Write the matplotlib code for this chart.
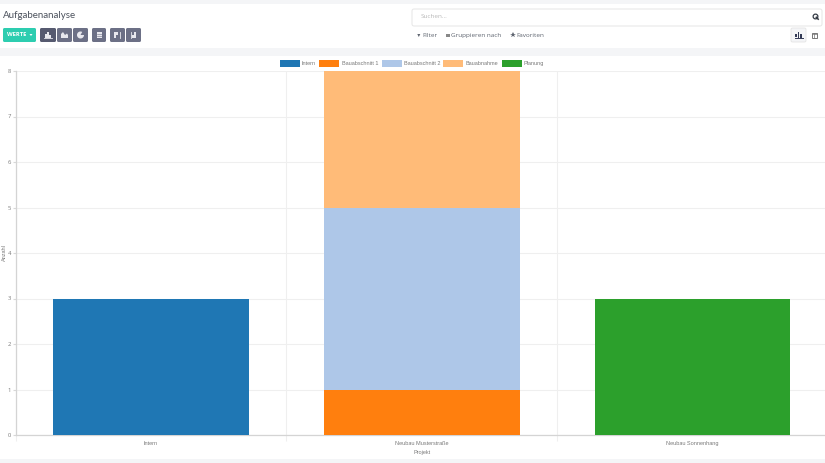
import numpy as np
import matplotlib.pyplot as plt
from matplotlib.patches import FancyBboxPatch, Rectangle, Wedge

projects = ["Intern", "Neubau Musterstraße", "Neubau Sonnenhang"]
series_names = ["Intern", "Bauabschnitt 1", "Bauabschnitt 2", "Bauabnahme", "Planung"]
series_values = [
    [3, 0, 0],
    [0, 1, 0],
    [0, 4, 0],
    [0, 3, 0],
    [0, 0, 3],
]
series_colors = ["#1f77b4", "#ff7f0e", "#aec7e8", "#ffbb78", "#2ca02c"]
y_ticks = [0, 1, 2, 3, 4, 5, 6, 7, 8]

W, H = 825, 463
plt.rcParams['font.family'] = ['Open Sans', 'DejaVu Sans']

fig = plt.figure(figsize=(W / 100, H / 100), dpi=100, facecolor="white")

# --- chart ---
ax = fig.add_axes([15.5 / W, (H - 435) / H, 812.5 / W, 364 / H])
x = np.arange(len(projects))
bottom = np.zeros(len(projects))
for name, vals, col in zip(series_names, series_values, series_colors):
    vals = np.array(vals)
    ax.bar(x, vals, 0.722, bottom=bottom, color=col, label=name, zorder=3)
    bottom += vals

label_color = "#7a7a7a"
ax.set_xlim(-0.5, 2.5)
ax.set_ylim(0, 8)
ax.set_yticks(y_ticks)
ax.set_xticks(x)
ax.set_xticklabels(projects, fontsize=4.0, color=label_color, family="Liberation Sans")
ax.set_xticks([-0.5, 0.5, 1.5], minor=True)
ax.grid(True, axis="y", color="#efefef", lw=0.8, zorder=0)
ax.grid(True, axis="x", which="minor", color="#efefef", lw=0.8, zorder=0)
ax.tick_params(axis="y", labelsize=4.2, labelcolor=label_color, color="#d8d8d8", length=2.2, width=0.8, pad=1)
ax.tick_params(axis="x", which="major", length=0, pad=4)
ax.tick_params(axis="x", which="minor", color="#efefef", length=4, width=0.8)
for s in ["top", "right"]:
    ax.spines[s].set_visible(False)
for s in ["left", "bottom"]:
    ax.spines[s].set_color("#d4d4d4")
    ax.spines[s].set_linewidth(0.9)
ax.set_xlabel("Projekt", fontsize=4.0, color=label_color, labelpad=3, family="Liberation Sans")
ax.text(2 / W, 1 - 253 / H, "Anzahl", transform=fig.transFigure, fontsize=4.0, color=label_color,
        rotation=90, ha="left", va="center", family="Liberation Sans")

fig.legend(loc="center", bbox_to_anchor=(412 / W, 1 - 63.5 / H), ncol=5, frameon=False,
           prop={"family": "Liberation Sans", "size": 4.0}, labelcolor=label_color,
           handlelength=3.6, handleheight=1.6, handletextpad=0.4, columnspacing=0.6)

# --- page ui, in pixel coords ---
ui = fig.add_axes([0, 0, 1, 1], zorder=5)
ui.set_xlim(0, W)
ui.set_ylim(H, 0)
ui.axis("off")
ui.patch.set_alpha(0)

band = "#f4f5f7"
for y0, y1 in [(0, 4), (48, 56), (459, 463)]:
    ui.add_patch(Rectangle((0, y0), W, y1 - y0, color=band, lw=0))

ui.text(3, 15, "Aufgabenanalyse", fontsize=7.0, color="#4c525d", va="center", family="Lato")


def button(x0, x1, col):
    ui.add_patch(FancyBboxPatch((x0 + 1, 29), x1 - x0 - 2, 12, boxstyle="round,pad=1,rounding_size=1.5",
                                fc=col, ec="none"))


button(3, 36, "#2dcdb0")
ui.text(16.5, 35, "WERTE", fontsize=4.2, color="white", ha="center", va="center", weight="bold")
ui.fill([29.5, 32.5, 31], [34, 34, 36], color="white", lw=0)

grey = "#6c7086"
buttons = [(40, 56, "#565a70"), (57, 72, grey), (73, 88, grey), (92, 106, grey), (110, 125, grey), (126, 141, grey)]
for x0, x1, col in buttons:
    button(x0, x1, col)

ic = "#e8e8ee"
# bar icon
ui.bar([46, 48, 50], [4, 6, 3], 1.3, bottom=[33.5, 31.5, 34.5], color=ic)
ui.plot([44, 52], [38, 38], color=ic, lw=0.6)
# area icon
ui.fill([61, 61, 63, 65, 67, 68, 68], [38, 34, 32, 35, 33.5, 35, 38], color=ic, lw=0)
# pie icon
ui.add_patch(Wedge((80.5, 35), 3.5, 0, 300, fc=ic, ec="none"))
# database icon
ui.add_patch(Rectangle((96.5, 32), 5, 6, fc=ic, ec="none"))
ui.plot([96.5, 101.5], [34, 34], color=grey, lw=0.4)
ui.plot([96.5, 101.5], [36, 36], color=grey, lw=0.4)
# sort icons
ui.bar([115, 117], [6, 3], 1.2, bottom=[32, 32], color=ic)
ui.plot([119.5, 119.5], [32, 38], color=ic, lw=0.6)
ui.bar([133, 135], [3, 6], 1.2, bottom=[35, 32], color=ic)
ui.plot([131, 131], [32, 38], color=ic, lw=0.6)

# search box
ui.add_patch(FancyBboxPatch((413, 10), 408, 15, boxstyle="round,pad=1,rounding_size=2",
                            fc="white", ec="#e6e6e6", lw=0.7))
ui.text(420.5, 16.5, "Suchen...", fontsize=4.6, color="#b8b8b8", va="center")
ui.plot([815], [16], marker="o", ms=3.4, mfc="none", mec="#333a44", mew=0.9)
ui.plot([816.3, 818.2], [17.3, 19.2], color="#333a44", lw=1.1)

menu_color = "#5f6570"
ui.fill([417.3, 420.3, 418.8], [34, 34, 37], color=menu_color, lw=0)
ui.text(422, 37, "Filter", fontsize=4.6, color=menu_color, va="baseline")
ui.add_patch(Rectangle((446, 33.5), 3.5, 3, fc="#888888", ec="none"))
ui.text(451, 37, "Gruppieren nach", fontsize=4.6, color=menu_color, va="baseline")
ui.plot([513], [35], marker="*", ms=4, color=menu_color, mew=0)
ui.text(516.5, 37, "Favoriten", fontsize=4.6, color=menu_color, va="baseline")

ui.add_patch(FancyBboxPatch((792, 29), 13, 12, boxstyle="round,pad=1,rounding_size=1.5",
                            fc="#f4f5f7", ec="#e4e4e4", lw=0.6))
ui.bar([796, 798.5, 801], [3, 6, 4], 1.6, bottom=[34, 31.5, 33.5], color="#333a55")
ui.plot([794.5, 803], [38, 38], color="#333a55", lw=0.7)
ui.add_patch(Rectangle((811.5, 32.5), 5, 5, fc="none", ec="#777777", lw=0.7))
ui.plot([811.5, 816.5], [34.2, 34.2], color="#777777", lw=0.5)
ui.plot([814, 814], [32.5, 37.5], color="#777777", lw=0.5)
ui.set_xlim(0, W)
ui.set_ylim(H, 0)

plt.savefig("out.png", dpi=100)
